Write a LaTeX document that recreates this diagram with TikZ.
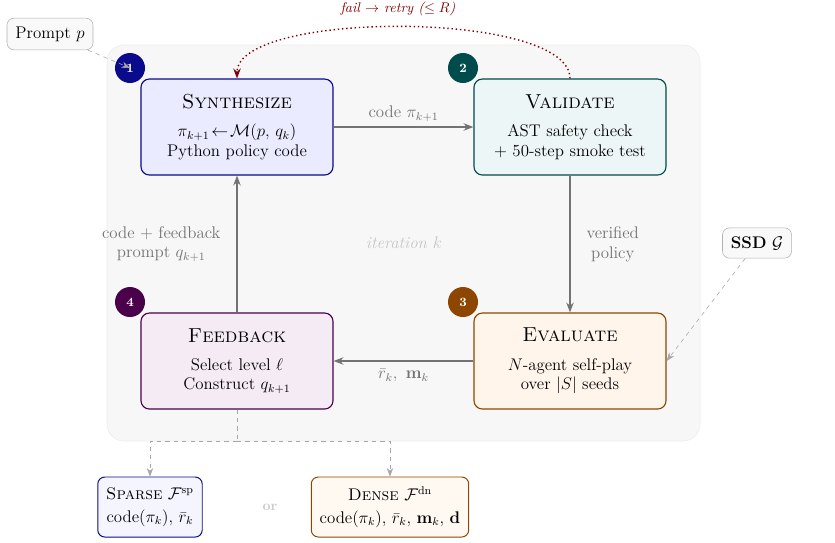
\documentclass[tikz,border=0pt]{standalone}
\usepackage{amsmath}
\usepackage{amsfonts}
\usetikzlibrary{arrows.meta,positioning}
\definecolor{synthC}{RGB}{10,10,140}
\definecolor{validC}{RGB}{0,75,75}
\definecolor{evalC}{RGB}{140,70,0}
\definecolor{feedC}{RGB}{75,0,75}
\definecolor{failC}{RGB}{130,0,0}
\tikzset{
  stage/.style={draw, rounded corners=6pt, line width=0.8pt, minimum width=4.8cm, minimum height=2.4cm, align=center, font=\large},
  stepnum/.style={circle, fill, text=white, inner sep=0pt, minimum size=0.75cm, font=\small\bfseries},
  flow/.style={-{Stealth[length=7pt]}, line width=0.9pt, gray!90!black},
  side/.style={draw=gray!60, fill=gray!5, rounded corners=5pt, align=center, font=\large, inner sep=6pt},
  hint/.style={-{Stealth[length=6pt]}, dashed, gray!70},
  fmode/.style={draw, rounded corners=5pt, line width=0.7pt, align=center, inner sep=6pt, font=\large, minimum height=1.5cm}
}
\begin{document}
\begin{tikzpicture}[x=0.025cm,y=-0.025cm]
            \useasboundingbox (0,0) rectangle (835,542);
            \fill[gray!6, draw=gray!15, rounded corners=12pt] (107,45) rectangle (700,441);

            \node[stage, draw=synthC, fill=blue!8] (synth) at (237,127)
                {{\Large\scshape Synthesize}\\[6pt] $\pi_{k+1}\!\leftarrow\!\mathcal{M}(p,\,q_k)$\\ Python policy code};
            \node[stage, draw=validC, fill=teal!7] (valid) at (570,127)
                {{\Large\scshape Validate}\\[6pt] AST safety check\\ + 50-step smoke test};
            \node[stage, draw=evalC, fill=orange!8] (eval) at (570,361)
                {{\Large\scshape Evaluate}\\[6pt] $N$-agent self-play\\ over $|S|$ seeds};
            \node[stage, draw=feedC, fill=violet!8] (feed) at (237,361)
                {{\Large\scshape Feedback}\\[6pt] Select level $\ell$\\ Construct $q_{k+1}$};

            \node[stepnum, fill=synthC] (s1) at (130,68) {1};
            \node[stepnum, fill=validC] (s2) at (463,68) {2};
            \node[stepnum, fill=evalC] (s3) at (463,302) {3};
            \node[stepnum, fill=feedC] (s4) at (130,302) {4};

            \draw[flow] (synth) -- node[above, font=\large, text=gray!90!black] {code $\pi_{k+1}$} (valid);
            \draw[flow] (valid) -- node[right=8pt, align=center, font=\large, text=gray!90!black] {verified\\policy} (eval);
            \draw[flow] (eval) -- node[below=2pt, font=\large, text=gray!90!black] {$\bar r_k,\ \mathbf{m}_k$} (feed);
            \draw[flow] (feed) -- node[left=8pt, align=center, font=\large, text=gray!90!black] {code + feedback\\prompt $q_{k+1}$} (synth);

            \node[font=\large\itshape, text=gray!45] (iter) at (404,243) {iteration $k$};

            % retry loop
            \draw[failC, dotted, line width=1pt, -{Stealth[length=7pt]}]
                (valid.north) .. controls (570,10) and (237,10) .. (synth.north);
            \node[font=\itshape, text=failC] (fail) at (398,9) {fail $\rightarrow$ retry ($\leq R$)};

            % inputs
            \node[side] (prompt) at (50,34) {Prompt $p$};
            \node[side] (ssd) at (757,243) {\textbf{SSD} $\mathcal{G}$};
            \draw[hint] (prompt) -- (s1.center);
            \draw[hint] (ssd) -- (eval.east);

            % feedback modes
            \node[fmode, draw=synthC, fill=blue!4] (sparse) at (150,507)
                {{\scshape Sparse} $\mathcal{F}^{\mathrm{sp}}$\\[2pt] code$(\pi_k)$,\ $\bar r_k$};
            \node[fmode, draw=evalC, fill=orange!5] (dense) at (390,507)
                {{\scshape Dense} $\mathcal{F}^{\mathrm{dn}}$\\[2pt] code$(\pi_k)$,\ $\bar r_k$,\ $\mathbf{m}_k$,\ $\mathbf{d}$};
            \node[text=gray!40, font=\bfseries] (or) at (270,507) {or};
            \coordinate (split) at (237,441);
            \draw[dashed, gray!70] (feed.south) -- (split);
            \draw[hint] (split) -| (sparse.north);
            \draw[hint] (split) -| (dense.north);
        \end{tikzpicture}
\end{document}
